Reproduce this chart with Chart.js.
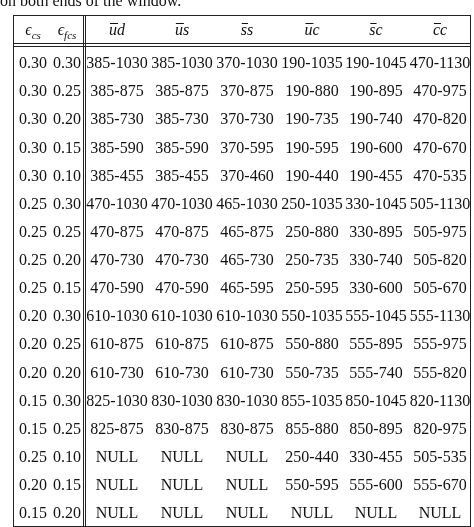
<!DOCTYPE html>
<html>
<head>
<meta charset="utf-8">
<script src="https://cdn.jsdelivr.net/npm/chart.js@4/dist/chart.umd.min.js"></script>
<style>
  html, body { margin: 0; padding: 0; background: #fff; overflow: hidden; }
  #wrap { width: 474px; height: 527px; }
</style>
</head>
<body>
<div id="wrap"><canvas id="tbl"></canvas></div>
<script>
// table contents
const columns = ["ecs", "efcs", "ud", "us", "ss", "uc", "sc", "cc"];
const epsCs = ["0.30","0.30","0.30","0.30","0.30","0.25","0.25","0.25","0.25","0.20","0.20","0.20","0.15","0.15","0.25","0.20","0.15"];
const epsFcs = ["0.30","0.25","0.20","0.15","0.10","0.30","0.25","0.20","0.15","0.30","0.25","0.20","0.30","0.25","0.10","0.15","0.20"];
const ud = ["385-1030","385-875","385-730","385-590","385-455","470-1030","470-875","470-730","470-590","610-1030","610-875","610-730","825-1030","825-875","NULL","NULL","NULL"];
const us = ["385-1030","385-875","385-730","385-590","385-455","470-1030","470-875","470-730","470-590","610-1030","610-875","610-730","830-1030","830-875","NULL","NULL","NULL"];
const ss = ["370-1030","370-875","370-730","370-595","370-460","465-1030","465-875","465-730","465-595","610-1030","610-875","610-730","830-1030","830-875","NULL","NULL","NULL"];
const uc = ["190-1035","190-880","190-735","190-595","190-440","250-1035","250-880","250-735","250-595","550-1035","550-880","550-735","855-1035","855-880","250-440","550-595","NULL"];
const sc = ["190-1045","190-895","190-740","190-600","190-455","330-1045","330-895","330-740","330-600","555-1045","555-895","555-740","850-1045","850-895","330-455","555-600","NULL"];
const cc = ["470-1130","470-975","470-820","470-670","470-535","505-1130","505-975","505-820","505-670","555-1130","555-975","555-820","820-1130","820-975","505-535","555-670","NULL"];
const rowLabels = epsCs.map((_, i) => "r" + i);
const cells = [epsCs, epsFcs, ud, us, ss, uc, sc, cc];

// horizontal centres of the columns (layout only)
const colX = [33, 67, 117, 182, 247, 312, 376, 440];
const FONT = '"Liberation Serif", "DejaVu Serif", serif';

function header(ctx, i, x, y) {
  ctx.fillStyle = "#111";
  ctx.textBaseline = "alphabetic";
  ctx.textAlign = "left";
  if (i < 2) {
    const sub = i === 0 ? "cs" : "fcs";
    ctx.font = "italic 11px " + FONT;
    const sw = ctx.measureText(sub).width;
    ctx.font = "italic 16px " + FONT;
    const ew = ctx.measureText("\u03f5").width;
    const x0 = x - (ew + sw) / 2;
    ctx.fillText("\u03f5", x0, y);
    ctx.font = "italic 11px " + FONT;
    ctx.fillText(sub, x0 + ew, y + 4);
  } else {
    const name = columns[i];
    ctx.font = "italic 16px " + FONT;
    const w = ctx.measureText(name).width;
    const w1 = ctx.measureText(name[0]).width;
    const x0 = x - w / 2;
    ctx.fillText(name, x0, y);
    ctx.strokeStyle = "#111";
    ctx.lineWidth = 1;
    ctx.beginPath();
    ctx.moveTo(x0 + 1, y - 11.5);
    ctx.lineTo(x0 + w1 + 1, y - 11.5);
    ctx.stroke();
  }
}

const tablePlugin = {
  id: "tablePlugin",
  afterDraw(chart) {
    const ctx = chart.ctx;
    const ys = chart.scales.y;
    ctx.save();
    // caption remnant at the top
    ctx.fillStyle = "#111";
    ctx.font = "16px " + FONT;
    ctx.textAlign = "left";
    ctx.textBaseline = "alphabetic";
    ctx.fillText("on both ends of the window.", 0, 6);
    // rules
    ctx.strokeStyle = "#222";
    ctx.lineWidth = 1;
    ctx.beginPath();
    ctx.moveTo(13, 15.5); ctx.lineTo(471, 15.5);
    ctx.moveTo(13, 43.5); ctx.lineTo(471, 43.5);
    ctx.moveTo(13, 46.5); ctx.lineTo(471, 46.5);
    ctx.moveTo(13, 526.5); ctx.lineTo(471, 526.5);
    ctx.moveTo(13.5, 15); ctx.lineTo(13.5, 527);
    ctx.moveTo(83.5, 15); ctx.lineTo(83.5, 527);
    ctx.moveTo(85.5, 15); ctx.lineTo(85.5, 527);
    ctx.moveTo(470.5, 15); ctx.lineTo(470.5, 527);
    ctx.stroke();
    // header
    colX.forEach((x, i) => header(ctx, i, x, 35));
    // body
    ctx.font = "16px " + FONT;
    ctx.textAlign = "center";
    ctx.textBaseline = "middle";
    for (let r = 0; r < rowLabels.length; r++) {
      const y = ys.getPixelForValue(r);
      cells.forEach((col, c) => ctx.fillText(col[r], colX[c], y + 1));
    }
    ctx.restore();
  }
};

new Chart(document.getElementById("tbl").getContext("2d"), {
  type: "scatter",
  data: { datasets: [{ data: [], pointRadius: 0 }] },
  options: {
    responsive: true,
    maintainAspectRatio: false,
    animation: false,
    layout: { padding: { top: 49, bottom: 0, left: 0, right: 0 } },
    plugins: { legend: { display: false }, tooltip: { enabled: false } },
    scales: {
      x: { type: "category", labels: columns, display: false, offset: true },
      y: { type: "category", labels: rowLabels, display: false, offset: true }
    }
  },
  plugins: [tablePlugin]
});
</script>
</body>
</html>
